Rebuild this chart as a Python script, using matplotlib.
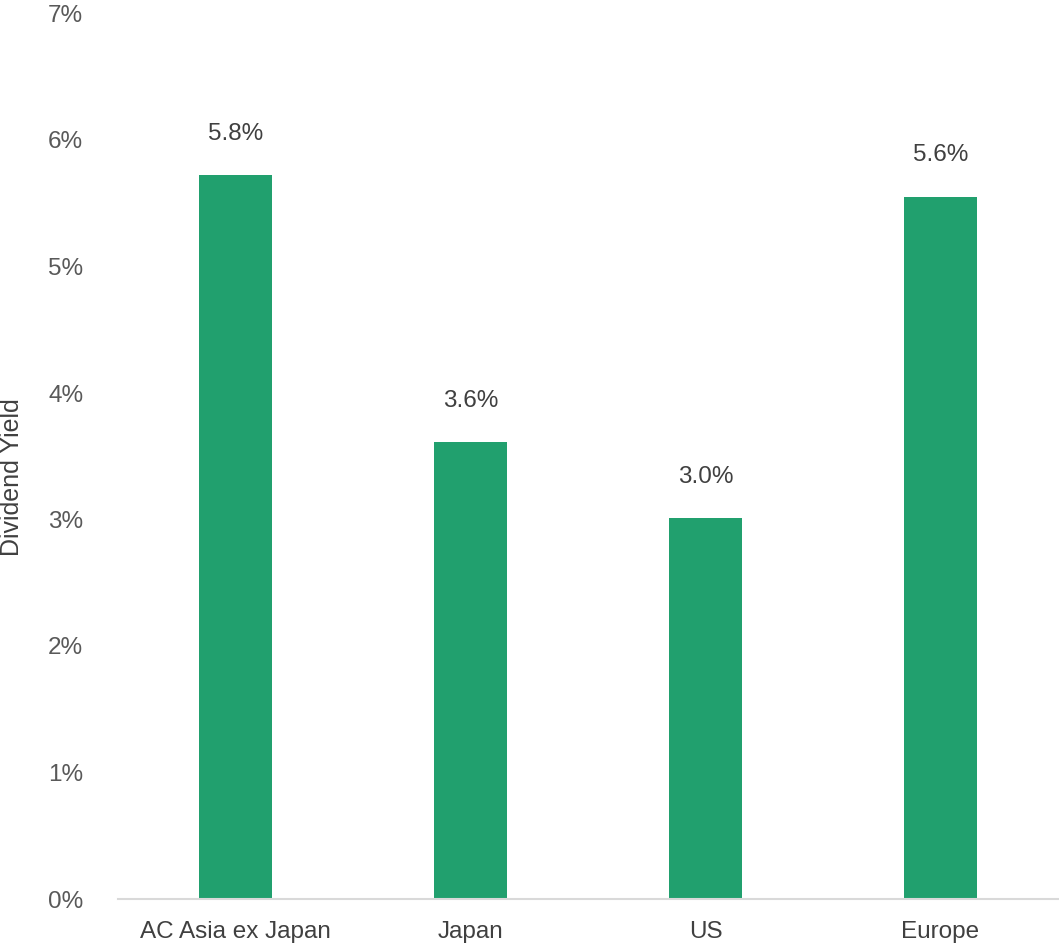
import matplotlib
matplotlib.use("Agg")
import matplotlib.pyplot as plt
from matplotlib.ticker import FuncFormatter

categories = ["AC Asia ex Japan", "Japan", "US", "Europe"]
values = [5.72, 3.61, 3.01, 5.55]
labels = ["5.8%", "3.6%", "3.0%", "5.6%"]
yticks = [0, 1, 2, 3, 4, 5, 6, 7]

plt.rcParams['font.family'] = ['Liberation Sans', 'DejaVu Sans']

W, H = 1059, 946
fig = plt.figure(figsize=(W / 100, H / 100), dpi=100)
ax = fig.add_axes([118 / W, (H - 899) / H, (1058 - 118) / W, (899 - 13.5) / H])

bar_color = "#21a06e"
x = list(range(len(categories)))
ax.bar(x, values, width=0.31, color=bar_color)

for xi, v, lab in zip(x, values, labels):
    ax.annotate(lab, (xi, v), xytext=(0, 30), textcoords="offset points",
                ha="center", va="center", fontsize=17.5, color="#404040")

ax.set_xlim(-0.5, len(categories) - 0.5)
ax.set_ylim(0, 7)
ax.set_yticks(yticks)
ax.yaxis.set_major_formatter(FuncFormatter(lambda v, p: f"{int(round(v))}%"))
ax.set_xticks(x)
ax.set_xticklabels(categories)
ax.tick_params(axis="y", length=0, pad=25, labelsize=17.5, labelcolor="#595959")
ax.tick_params(axis="x", length=0, pad=16, labelsize=17.5, labelcolor="#404040")

for s in ["top", "right", "left"]:
    ax.spines[s].set_visible(False)
ax.spines["bottom"].set_color("#d9d9d9")
ax.spines["bottom"].set_linewidth(1.5)

ax.set_ylabel("Dividend Yield", fontsize=18, color="#404040")
ax.yaxis.set_label_coords((24 - 118) / (1058 - 118), (899 - 477) / (899 - 13.5))

fig.savefig("out.png", dpi=100)
